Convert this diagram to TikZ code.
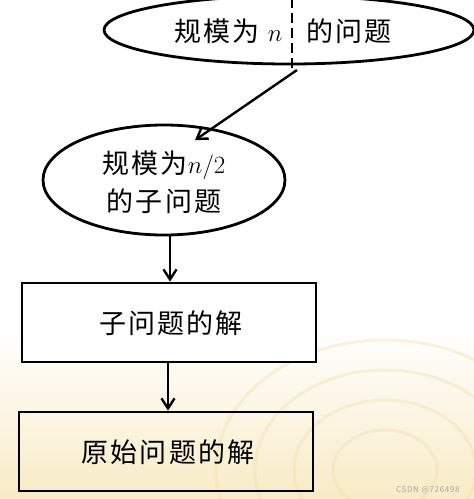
\documentclass[tikz,border=0pt]{standalone}
\usepackage{fontspec}
\setmainfont[LetterSpace=8]{Noto Sans CJK SC}
\usetikzlibrary{shapes.geometric,arrows.meta}
\definecolor{bgyel}{HTML}{F8EBC6}
\definecolor{ringc}{HTML}{F0DCA8}
\begin{document}
\begin{tikzpicture}[x=1pt,y=-1pt,
  txt/.style={font=\fontsize{27pt}{38pt}\selectfont, inner sep=0pt, align=center},
  shapeline/.style={draw=black, line width=2.8pt},
  flow/.style={line width=2.4pt, -{Straight Barb[length=10pt,width=13pt,line width=2.4pt]}}]
\useasboundingbox (0,0) rectangle (474,499);
\clip (0,0) rectangle (474,499);
% background
\fill[white] (0,0) rectangle (474,499);
\shade[top color=white, bottom color=bgyel] (0,330) rectangle (474,499);
\foreach \r in {40,70,100,130}
  \draw[ringc, line width=3pt, opacity=0.35] (385,470) ellipse ({\r*1.3} and \r);
% top ellipse
\node[shapeline, ellipse, minimum width=370pt, minimum height=68pt, inner sep=0pt] (top) at (289,30) {};
\node[txt] (toptext) at (283,31) {规模为 $n$\hspace{24pt}的问题};
\coordinate (dtop) at (292,-2);
\coordinate (dbot) at (292,70);
\draw[line width=2.8pt, dash pattern=on 10pt off 5pt] (dtop) -- (dbot);
% second ellipse
\node[shapeline, ellipse, minimum width=242pt, minimum height=110pt, inner sep=0pt] (sub) at (164,180) {};
\node[txt] (subtext) at (164,182) {规模为$n/2$\\的子问题};
% rectangles
\node[shapeline, rectangle, fill=white, minimum width=294pt, minimum height=79pt, inner sep=0pt] (sol) at (169,322.5) {};
\node[txt] (soltext) at (171,323) {子问题的解};
\node[shapeline, rectangle, minimum width=294pt, minimum height=79pt, inner sep=0pt] (orig) at (166,451.5) {};
\node[txt] (origtext) at (168,452) {原始问题的解};
% connectors
\coordinate (a1) at (297,70);
\draw[flow] (a1) -- (sub.north east -| 195,126);
\draw[flow] (sub.south -| 170,0) -- (sol.north -| 170,0);
\draw[flow] (sol.south -| 168,0) -- (orig.north -| 168,0);
% watermark
\node[font=\fontsize{8pt}{9pt}\selectfont, text=gray!70, anchor=east] (wm) at (463,490) {CSDN @726498};
\end{tikzpicture}
\end{document}
